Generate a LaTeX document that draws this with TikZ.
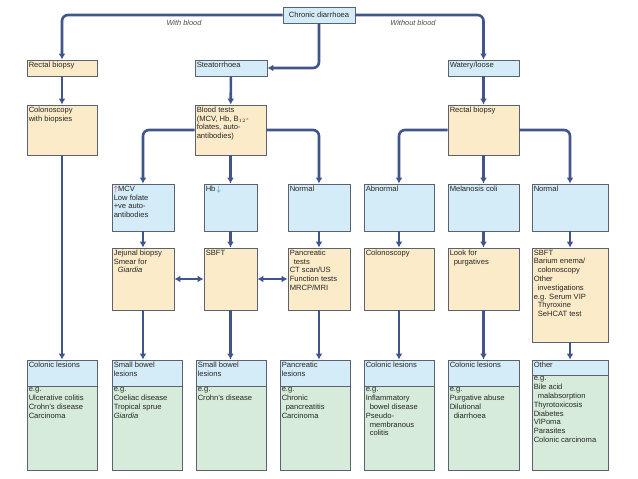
\documentclass[tikz,border=0pt]{standalone}
\usepackage{fontspec}
\setmainfont{Liberation Sans}
\usetikzlibrary{fit,arrows.meta}
\definecolor{cream}{HTML}{FCEBC8}
\definecolor{sky}{HTML}{D4ECF8}
\definecolor{mint}{HTML}{D6EBD9}
\definecolor{edge}{HTML}{5A6270}
\definecolor{pipe}{HTML}{41558A}
\newcommand{\tbox}[7]{%
  \node[box,fill=#2,fit={(#3,#4)(#5,#6)}] (#1) {};
  \node[txt] at (#1.north west) {#7};}
\newcommand{\ind}{\hspace*{4pt}}
\begin{document}
\begin{tikzpicture}[x=1pt,y=-1pt,
box/.style={draw=edge,line width=0.9pt,inner sep=0pt},
txt/.style={anchor=north west,align=left,inner sep=2pt,font=\fontsize{7.6}{8.8}\selectfont,text=black!85},
link/.style={draw=pipe,line width=2.6pt,rounded corners=6pt,-{Latex[length=6pt,width=7pt]}},
both/.style={link,{Latex[length=6pt,width=7pt]}-{Latex[length=6pt,width=7pt]}}]
\useasboundingbox (0,0) rectangle (638,479);
% top rows
\node[box,fill=sky,minimum width=72pt,minimum height=16pt,font=\fontsize{7.6}{8.8}\selectfont,text=black!85] (chronic) at (319,15) {Chronic diarrhoea};
\tbox{rbA}{cream}{27}{60}{97}{76}{Rectal biopsy}
\tbox{stea}{sky}{195}{60}{267}{76}{Steatorrhoea}
\tbox{watery}{sky}{448}{60}{519}{76}{Watery/loose}
\tbox{colA}{cream}{27}{105}{97}{155}{Colonoscopy\\with biopsies}
\tbox{blood}{cream}{195}{105}{266}{155}{Blood tests\\(MCV, Hb, B$_{12}$-\\folates, auto-\\antibodies)}
\tbox{rbB}{cream}{448}{105}{519}{155}{Rectal biopsy}
% third row
\tbox{mcv}{sky}{112}{184}{174}{231}{\textcolor{red}{$\uparrow$}MCV\\Low folate\\+ve auto-\\antibodies}
\tbox{hb}{sky}{204}{184}{257}{231}{Hb\,\textcolor{cyan!70!blue}{$\downarrow$}}
\tbox{normA}{sky}{288}{184}{350}{231}{Normal}
\tbox{abn}{sky}{364}{184}{434}{231}{Abnormal}
\tbox{mel}{sky}{448}{184}{519}{231}{Melanosis coli}
\tbox{normB}{sky}{532}{184}{608}{231}{Normal}
% fourth row
\tbox{jej}{cream}{112}{248}{174}{310}{Jejunal biopsy\\Smear for\\\ind\textit{Giardia}}
\tbox{sbftA}{cream}{204}{248}{257}{310}{SBFT}
\tbox{panc}{cream}{288}{248}{350}{310}{Pancreatic\\\ind tests\\CT scan/US\\Function tests\\MRCP/MRI}
\tbox{colB}{cream}{364}{248}{434}{310}{Colonoscopy}
\tbox{look}{cream}{448}{248}{519}{310}{Look for\\\ind purgatives}
\tbox{sbftB}{cream}{532}{248}{608}{342}{SBFT\\Barium enema/\\\ind colonoscopy\\Other\\\ind investigations\\e.g. Serum VIP\\\ind Thyroxine\\\ind SeHCAT test}
% bottom row
\tbox{lesA}{sky}{27}{360}{97}{386}{Colonic lesions}
\tbox{egA}{mint}{27}{386}{97}{470}{e.g.\\Ulcerative colitis\\Crohn's disease\\Carcinoma}
\tbox{lesB}{sky}{112}{360}{182}{386}{Small bowel\\lesions}
\tbox{egB}{mint}{112}{386}{182}{470}{e.g.\\Coeliac disease\\Tropical sprue\\\textit{Giardia}}
\tbox{lesC}{sky}{196}{360}{266}{386}{Small bowel\\lesions}
\tbox{egC}{mint}{196}{386}{266}{470}{e.g.\\Crohn's disease}
\tbox{lesD}{sky}{280}{360}{350}{386}{Pancreatic\\lesions}
\tbox{egD}{mint}{280}{386}{350}{470}{e.g.\\Chronic\\\ind pancreatitis\\Carcinoma}
\tbox{lesE}{sky}{364}{360}{434}{386}{Colonic lesions}
\tbox{egE}{mint}{364}{386}{434}{470}{e.g.\\Inflammatory\\\ind bowel disease\\Pseudo-\\\ind membranous\\\ind colitis}
\tbox{lesF}{sky}{448}{360}{519}{386}{Colonic lesions}
\tbox{egF}{mint}{448}{386}{519}{470}{e.g.\\Purgative abuse\\Dilutional\\\ind diarrhoea}
\tbox{lesG}{sky}{532}{360}{608}{375}{Other}
\tbox{egG}{mint}{532}{375}{608}{470}{e.g.\\Bile acid\\\ind malabsorption\\Thyrotoxicosis\\Diabetes\\VIPoma\\Parasites\\Colonic carcinoma}
% labels
\node[font=\fontsize{7.4}{8}\selectfont\itshape,text=black!70] (wb) at (184,23) {With blood};
\node[font=\fontsize{7.4}{8}\selectfont\itshape,text=black!70] (wob) at (413,23) {Without blood};
% connectors
\draw[link] (chronic.west) -| (rbA.north);
\draw[link] (chronic.south) |- (stea.east);
\draw[link] (chronic.east) -| (watery.north);
\draw[link] (rbA) -- (colA);
\draw[link] (colA) -- (lesA);
\draw[link] (stea) -- (blood);
\draw[link] (blood.west) -| (mcv.north);
\draw[link] (blood.south) -- (blood.south |- hb.north);
\draw[link] (blood.east) -| (normA.north);
\draw[link] (watery) -- (rbB);
\draw[link] (rbB.west) -| (abn.north);
\draw[link] (rbB) -- (mel);
\draw[link] (rbB.east) -| (normB.north);
\foreach \a/\b in {mcv/jej,hb/sbftA,normA/panc,abn/colB,mel/look,normB/sbftB,colB/lesE,look/lesF,sbftB/lesG}
  \draw[link] (\a) -- (\b);
\draw[link] (jej.south) -- (jej.south |- lesB.north);
\draw[link] (sbftA.south) -- (sbftA.south |- lesC.north);
\draw[link] (panc.south) -- (panc.south |- lesD.north);
\draw[both] (jej) -- (sbftA);
\draw[both] (sbftA) -- (panc);
\end{tikzpicture}
\end{document}
